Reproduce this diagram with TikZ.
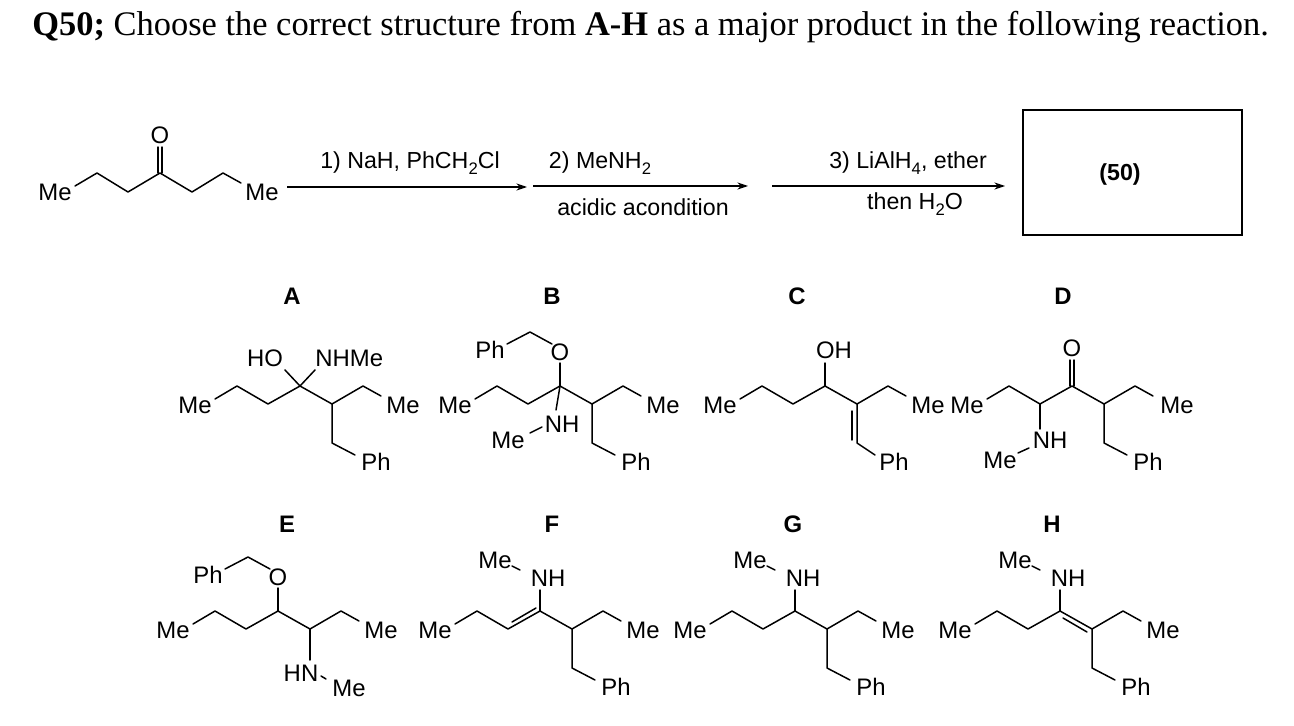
\documentclass[tikz,border=0pt]{standalone}
\usepackage{fontspec}
\usetikzlibrary{arrows.meta}
\setmainfont{Liberation Sans}
\newfontfamily\tms{Liberation Serif}
\newcommand\sbs[1]{\raisebox{-3.5pt}{\fontsize{9.5}{9.5}\selectfont #1}}
\begin{document}
\begin{tikzpicture}[x=0.02cm,y=-0.02cm,
  bd/.style={line width=0.85pt,line cap=round,line join=round},
  atm/.style={font=\fontsize{13.6}{14}\selectfont,inner sep=0pt},
  lb/.style={font=\fontsize{13.6}{14}\selectfont\bfseries,inner sep=0pt},
  rg/.style={font=\fontsize{13.2}{14}\selectfont,inner sep=0pt},
  arr/.style={line width=0.8pt,-{Stealth[length=6pt,width=4pt]}}]
\useasboundingbox (0,0) rectangle (1294,726);
\fill[white] (0,0) rectangle (1294,726);
\node[anchor=west,inner sep=0pt,font=\tms\fontsize{19.6}{21}\selectfont] (title) at (32,27)
 {\textbf{Q50;} Choose the correct structure from \textbf{A-H} as a major product in the following reaction.};
% ---- starting material
\begin{scope}[shift={(55,192)}]
\node[atm] (sm1) at (0,0) {Me};
\node[atm] (sm2) at (207,0) {Me};
\node[atm] (smO) at (105,-57) {O};
\draw[bd] (20,-6)--(42,-19)--(73,0)--(105,-19)--(137,0)--(168,-19)--(186,-9);
\draw[bd] (103,-19)--(103,-45) (107,-19)--(107,-45);
\end{scope}
% ---- reagents
\coordinate (a1s) at (287,187); \coordinate (a1e) at (527,187);
\coordinate (a2s) at (533,186); \coordinate (a2e) at (748,186);
\coordinate (a3s) at (772,186); \coordinate (a3e) at (1005,186);
\draw[arr] (a1s)--(a1e);
\draw[arr] (a2s)--(a2e);
\draw[arr] (a3s)--(a3e);
\node[rg] (r1) at (410,163) {1) NaH, PhCH\sbs{2}Cl};
\node[rg] (r2) at (600,163) {2) MeNH\sbs{2}};
\node[rg] (r2b) at (643,207) {acidic acondition};
\node[rg] (r3) at (908,163) {3) LiAlH\sbs{4}, ether};
\node[rg] (r3b) at (915,204) {then H\sbs{2}O};
\draw[line width=1.1pt] (1023,110) rectangle (1242,235);
\node[rg,font=\fontsize{13.2}{14}\selectfont\bfseries] (q) at (1120,175) {(50)};
% ---- letter labels
\foreach \l/\x/\y in {A/292/296,B/552/296,C/797/296,D/1063/296,E/287/524,F/552/524,G/793/524,H/1052/524}
  \node[lb] (lab\l) at (\x,\y) {\l};
% ---- A
\begin{scope}[shift={(195,405)}]
\node[atm] (a1) at (0,0) {Me}; \node[atm] (a2) at (208,0) {Me};
\node[atm] (a3) at (181,57) {Ph};
\node[atm] (a4) at (70,-47) {HO};
\node[atm,anchor=west] (a5) at (120,-47) {NHMe};
\draw[bd] (20,-6)--(42,-19)--(73,-1)--(105,-19)--(137,-1)--(168,-19)--(186,-9);
\draw[bd] (137,-1)--(137,38)--(160,50);
\draw[bd] (90,-35)--(105,-19)--(120,-35);
\end{scope}
% ---- B
\begin{scope}[shift={(455,405)}]
\node[atm] (b1) at (0,0) {Me}; \node[atm] (b2) at (208,0) {Me};
\node[atm] (b3) at (181,57) {Ph};
\node[atm] (b4) at (105,-53) {O};
\node[atm] (b5) at (35,-55) {Ph};
\node[atm] (b6) at (107,19) {NH};
\node[atm] (b7) at (53,35) {Me};
\draw[bd] (20,-6)--(42,-19)--(73,-1)--(105,-19)--(137,-1)--(168,-19)--(186,-9);
\draw[bd] (137,-1)--(137,38)--(160,50);
\draw[bd] (105,-19)--(105,-42);
\draw[bd] (97,-61)--(75,-73)--(52,-61);
\draw[bd] (105,-19)--(101,5);
\draw[bd] (75,28)--(87,22);
\end{scope}
% ---- C
\begin{scope}[shift={(720,405)}]
\node[atm] (c1) at (0,0) {Me}; \node[atm] (c2) at (208,0) {Me};
\node[atm] (c3) at (174,57) {Ph};
\node[atm] (c4) at (114,-55) {OH};
\draw[bd] (20,-6)--(42,-19)--(73,-1)--(105,-19)--(137,-1)--(168,-19)--(186,-9);
\draw[bd] (137,-1)--(137,38)--(155,50);
\draw[bd] (132,6)--(132,35);
\draw[bd] (105,-19)--(105,-42);
\end{scope}
% ---- D
\begin{scope}[shift={(967,405)}]
\node[atm] (d1) at (0,0) {Me}; \node[atm] (d2) at (210,0) {Me};
\node[atm] (d3) at (181,57) {Ph};
\node[atm] (d4) at (105,-57) {O};
\node[atm] (d5) at (83,35) {NH};
\node[atm] (d6) at (33,55) {Me};
\draw[bd] (20,-6)--(42,-19)--(73,-1)--(105,-19)--(137,-1)--(168,-19)--(186,-9);
\draw[bd] (137,-1)--(137,38)--(160,50);
\draw[bd] (103,-19)--(103,-45) (107,-19)--(107,-45);
\draw[bd] (73,-1)--(73,24);
\draw[bd] (51,48)--(62,43);
\end{scope}
% ---- E
\begin{scope}[shift={(173,630)}]
\node[atm] (e1) at (0,0) {Me}; \node[atm] (e2) at (208,0) {Me};
\node[atm] (e3) at (105,-53) {O};
\node[atm] (e4) at (35,-55) {Ph};
\node[atm] (e5) at (128,43) {HN};
\node[atm] (e6) at (176,58) {Me};
\draw[bd] (20,-6)--(42,-19)--(73,-1)--(105,-19)--(137,-1)--(168,-19)--(186,-9);
\draw[bd] (105,-19)--(105,-42);
\draw[bd] (97,-61)--(75,-73)--(52,-61);
\draw[bd] (137,-1)--(137,30);
\draw[bd] (148,46)--(153,49);
\end{scope}
% ---- F
\begin{scope}[shift={(435,630)}]
\node[atm] (f1) at (0,0) {Me}; \node[atm] (f2) at (208,0) {Me};
\node[atm] (f3) at (181,57) {Ph};
\node[atm] (f4) at (113,-52) {NH};
\node[atm] (f5) at (60,-70) {Me};
\draw[bd] (20,-6)--(42,-19)--(73,-1)--(105,-19)--(137,-1)--(168,-19)--(186,-9);
\draw[bd] (77,-8)--(101,-22);
\draw[bd] (137,-1)--(137,38)--(160,50);
\draw[bd] (105,-19)--(105,-40);
\draw[bd] (77,-64)--(85,-60);
\end{scope}
% ---- G
\begin{scope}[shift={(690,630)}]
\node[atm] (g1) at (0,0) {Me}; \node[atm] (g2) at (208,0) {Me};
\node[atm] (g3) at (181,57) {Ph};
\node[atm] (g4) at (113,-52) {NH};
\node[atm] (g5) at (60,-70) {Me};
\draw[bd] (20,-6)--(42,-19)--(73,-1)--(105,-19)--(137,-1)--(168,-19)--(186,-9);
\draw[bd] (137,-1)--(137,38)--(160,50);
\draw[bd] (105,-19)--(105,-40);
\draw[bd] (77,-64)--(85,-60);
\end{scope}
% ---- H
\begin{scope}[shift={(955,630)}]
\node[atm] (h1) at (0,0) {Me}; \node[atm] (h2) at (208,0) {Me};
\node[atm] (h3) at (181,57) {Ph};
\node[atm] (h4) at (113,-52) {NH};
\node[atm] (h5) at (60,-70) {Me};
\draw[bd] (20,-6)--(42,-19)--(73,-1)--(105,-19)--(137,-1)--(168,-19)--(186,-9);
\draw[bd] (108,-12)--(132,2);
\draw[bd] (137,-1)--(137,38)--(160,50);
\draw[bd] (105,-19)--(105,-40);
\draw[bd] (77,-64)--(85,-60);
\end{scope}
\end{tikzpicture}
\end{document}
